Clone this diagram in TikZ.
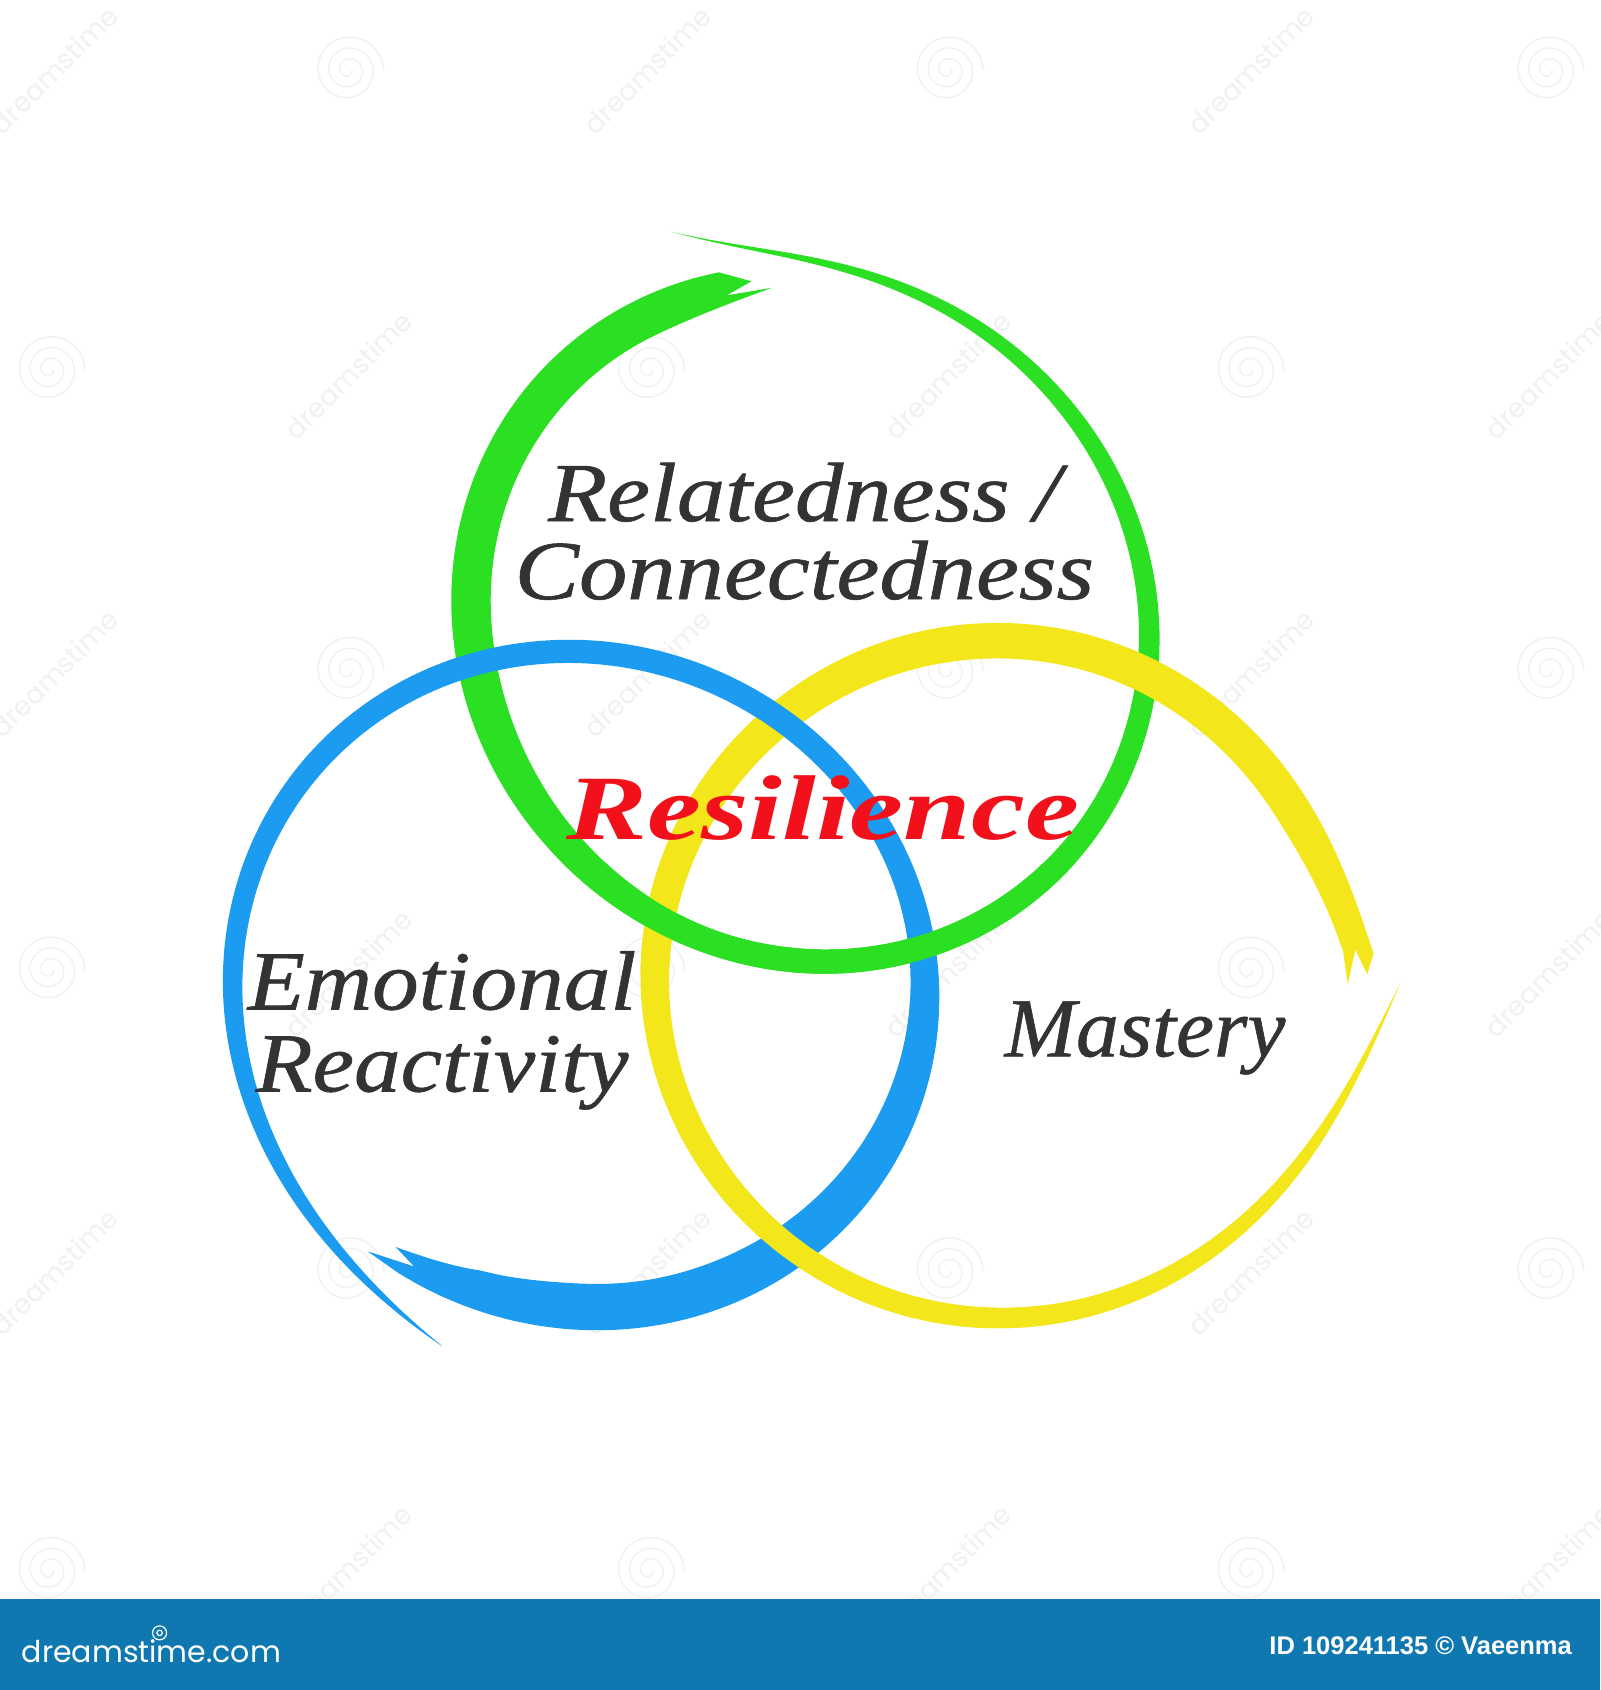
\documentclass[tikz,border=0pt]{standalone}
\usepackage{fontspec}
\setmainfont{Liberation Serif}
\newfontfamily\footfont{Liberation Sans}
\newfontfamily\logofont{Poppins}
\newfontfamily\handfont[ItalicFeatures={FakeBold=0.7}]{Liberation Serif}
\definecolor{gband}{HTML}{2BDF22}
\definecolor{bband}{HTML}{1C9CF0}
\definecolor{yband}{HTML}{F3E61B}
\definecolor{ink}{HTML}{333333}
\definecolor{foot}{HTML}{0F78B0}
\definecolor{resred}{HTML}{F2101A}
\definecolor{wmark}{HTML}{F1F1F1}
\tikzset{declare function={
 cl(\a,\b,\t)=max(0,min(1,(\t-\a)/(\b-\a)));
 sm(\u)=\u*\u*(3-2*\u);
 rg(\t)=328+9*sin(2*\t)+47*exp(-(\t+109)/12);
 wg(\t)=24*(1-exp(-(\t+109)/70))+13*sm(cl(100,180,\t));
 rb(\t)=325+5*cos(2*\t)+6*sin(2*\t)+43*exp(-(\t-111)/30);
 wb(\t)=22*(1-exp(-(\t-111)/40))+21*sm(cl(330,430,\t))-12*sm(cl(450,485,\t));
 ry(\t)=327+47*exp(-(\t-1)/18)+23*exp((\t-357)/14)+4*exp(-((\t-180)/40)*((\t-180)/40));
 wy(\t)=22*(1-exp(-(\t-1)/45))+11*sm(cl(100,270,\t))-6*sm(cl(330,355,\t));
}}
\newcommand{\greenband}{%
\fill[gband] plot[smooth,variable=\t,domain=-109:256,samples=90] ({747+rg(\t)*cos(\t)},{575+rg(\t)*sin(\t)})
 -- (697,261) -- (674,274) -- (716,267)
 .. controls (680,280) and (635,297) .. ({747+(rg(240)-wg(240))*cos(240)},{575+(rg(240)-wg(240))*sin(240)})
 -- plot[smooth,variable=\t,domain=240:-109,samples=90] ({747+(rg(\t)-wg(\t))*cos(\t)},{575+(rg(\t)-wg(\t))*sin(\t)}) -- cycle;}
\newcommand{\blueband}{%
\fill[bband] plot[smooth,variable=\t,domain=111.4:482.7,samples=90] ({541+rb(\t)*cos(\t)},{914+rb(\t)*sin(\t)})
 -- (341,1161) -- (384,1175) -- (367,1157)
 .. controls (395,1167) and (420,1175) .. ({541+(rb(470)-wb(470))*cos(470)},{914+(rb(470)-wb(470))*sin(470)})
 -- plot[smooth,variable=\t,domain=470:111.4,samples=90] ({541+(rb(\t)-wb(\t))*cos(\t)},{914+(rb(\t)-wb(\t))*sin(\t)}) -- cycle;}
\newcommand{\yellowband}{%
\fill[yband] plot[smooth,variable=\t,domain=1:356.7,samples=90] ({925+ry(\t)*cos(\t)},{905+ry(\t)*sin(\t)})
 -- (1268,904) -- (1257,881) -- (1250,913)
 -- plot[smooth,variable=\t,domain=356:1,samples=90] ({925+(ry(\t)-wy(\t))*cos(\t)},{905+(ry(\t)-wy(\t))*sin(\t)}) -- cycle;}
\tikzset{
 script/.style={font=\handfont\fontsize{84}{78}\selectfont\itshape,text=ink,align=center,inner sep=0pt,transform shape},
 footlabel/.style={text=white,inner sep=0pt},
 wmtext/.style={text=wmark,inner sep=0pt,rotate=45,font=\logofont\fontsize{27}{27}\selectfont},
 wmspiral/.style={draw=wmark,line width=1.4pt}
}
\begin{document}
\begin{tikzpicture}[x=1.0782pt,y=-1.0778pt]
\useasboundingbox (0,0) rectangle (1484,1568);
\fill[white] (0,0) rectangle (1484,1568);
\foreach \px/\py in {323/65,879/65,1436/65,46/343,602/343,1158/343,323/622,879/622,1436/622,46/900,602/900,1158/900,323/1179,879/1179,1436/1179,46/1457,602/1457,1158/1457}{
 \draw[wmspiral] plot[smooth,variable=\t,domain=0:1080,samples=60] ({\px+(3+\t/36)*cos(\t)},{\py+(3+\t/36)*sin(\t)});
}
\foreach \px/\py [count=\i] in {50/65,600/65,1160/65,323/348,879/348,1436/348,50/625,600/625,1160/625,323/903,879/903,1436/903,50/1180,600/1180,1160/1180,323/1455,879/1455,1436/1455}{
 \node[wmtext] (wm\i) at (\px,\py) {dreamstime};
}
\greenband
\yellowband
\blueband
\begin{scope}
\clip (0,800) rectangle (1484,1568);
\greenband
\end{scope}
\begin{scope}
\clip (0,1050) rectangle (1484,1568);
\yellowband
\end{scope}
\node[script,xscale=1.15] (related) at (746,493) {Relatedness /\\Connectedness};
\node[script,xscale=1.11,font=\handfont\fontsize{84}{82}\selectfont\itshape] (emotional) at (410,956) {Emotional\\Reactivity};
\node[script,xscale=1.02] (mastery) at (1062,963) {Mastery};
\node[script,xscale=1.32,text=resred,font=\fontsize{92}{92}\selectfont\itshape\bfseries] (resilience) at (763,750) {Resilience};
\fill[foot] (0,1484) rectangle (1484,1568);
\node[footlabel,anchor=west,font=\logofont\fontsize{30}{30}\selectfont] (logo) at (20,1532) {dreamstime.com};
\draw[white,line width=1.2pt] (148,1515) circle[radius=6.5] (148,1515) circle[radius=2.5];
\node[footlabel,anchor=east,font=\footfont\bfseries\fontsize{25.5}{25.5}\selectfont] (credit) at (1458,1527) {ID 109241135 © Vaeenma};
\end{tikzpicture}
\end{document}
